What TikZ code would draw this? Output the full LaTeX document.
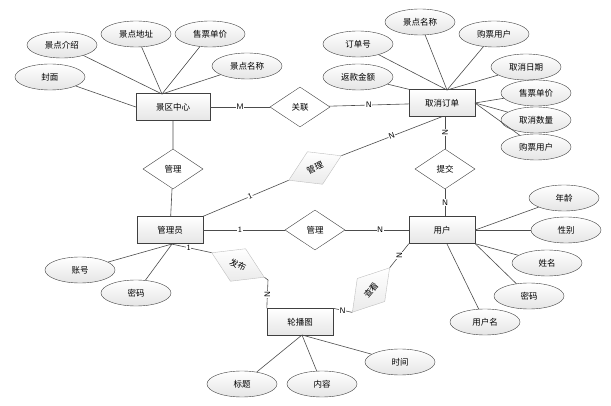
\documentclass[tikz,border=0pt]{standalone}
\usepackage{fontspec}
\setmainfont{Noto Sans CJK SC}
\usetikzlibrary{shapes.geometric}
\begin{document}
\begin{tikzpicture}[x=1pt,y=-1pt,font=\fontsize{8.5}{9}\selectfont,
 ent/.style={draw=black!75,rectangle,minimum width=66pt,minimum height=27pt,top color=white,bottom color=black!10,inner sep=1pt},
 att/.style={draw=black!75,ellipse,minimum width=70pt,minimum height=26pt,top color=white,bottom color=black!10,inner sep=0pt},
 rel/.style={draw=black!75,diamond,aspect=1.5,minimum width=60pt,minimum height=40pt,inner sep=0pt,fill=white},
 grel/.style={draw=black!25,diamond,aspect=1.5,minimum width=58pt,minimum height=36pt,inner sep=0pt,top color=white,bottom color=black!8},
 ln/.style={draw=black!70,line width=0.6pt},
 lab/.style={fill=white,inner sep=0.5pt,font=\sffamily\fontsize{8}{9}\selectfont}]
\useasboundingbox (0,0) rectangle (611,406);
% entities
\node[ent,minimum width=74pt] (jq) at (173,107) {景区中心};
\node[ent] (qx) at (442,103) {取消订单};
\node[ent] (gly) at (170,230) {管理员};
\node[ent] (yh) at (442,230) {用户};
\node[ent] (lbt) at (300,322) {轮播图};
% relations
\node[rel] (gl) at (300,107) {关联};
\node[rel] (gl1) at (173,169) {管理};
\node[rel] (tj) at (445,169) {提交};
\node[rel] (gl2) at (315,230) {管理};
\node[grel,rotate=25] (gl3) at (315,168) {管理};
\node[grel,rotate=-25] (fb) at (238,265) {发布};
\node[grel,rotate=50] (ck) at (371,290) {查看};
% attributes
\node[att] (a1) at (62,45) {景点介绍};
\node[att] (a2) at (136,34) {景点地址};
\node[att] (a3) at (210,34) {售票单价};
\node[att] (a4) at (247,66) {景点名称};
\node[att] (a5) at (50,77) {封面};
\node[att] (b1) at (358,44) {订单号};
\node[att] (b2) at (420,22) {景点名称};
\node[att] (b3) at (494,34) {购票用户};
\node[att] (b4) at (526,67) {取消日期};
\node[att] (b5) at (358,77) {返款金额};
\node[att] (b6) at (536,93) {售票单价};
\node[att] (b7) at (536,120) {取消数量};
\node[att] (b8) at (536,147) {购票用户};
\node[att] (c1) at (564,198) {年龄};
\node[att] (c2) at (566,230) {性别};
\node[att] (c3) at (547,263) {姓名};
\node[att] (c4) at (529,296) {密码};
\node[att] (c5) at (485,322) {用户名};
\node[att] (d1) at (80,270) {账号};
\node[att] (d2) at (136,293) {密码};
\node[att] (e1) at (242,384) {标题};
\node[att] (e2) at (322,384) {内容};
\node[att] (e3) at (400,362) {时间};
% attribute lines
\coordinate (jqt) at (162,94);
\foreach \a in {a1,a2,a3,a4} \draw[ln] (\a) -- (jqt);
\draw[ln] (a5) -- (jq.west);
\coordinate (qxt) at (447,90);
\coordinate (qxr) at (475,103);
\foreach \a in {b1,b2,b3,b4} \draw[ln] (\a) -- (qxt);
\draw[ln] (b5) -- (qx.north west);
\foreach \a in {b6,b7,b8} \draw[ln] (\a) -- (qxr);
\coordinate (yhb) at (447,244);
\foreach \a in {c1,c2} \draw[ln] (\a) -- (yh.east);
\foreach \a in {c3,c4} \draw[ln] (\a) -- (yh.south east);
\draw[ln] (c5) -- (yhb);
\coordinate (glyb) at (172,244);
\foreach \a in {d1,d2} \draw[ln] (\a) -- (glyb);
\coordinate (lbtb) at (302,335);
\foreach \a in {e1,e2,e3} \draw[ln] (\a) -- (lbtb);
% relation lines
\draw[ln] (jq) -- node[lab]{M} (gl);
\draw[ln] (gl) -- node[lab,pos=0.5]{N} (qx);
\draw[ln] (jq) -- (gl1) -- (gly);
\draw[ln] (gly.north east) -- node[lab,pos=0.55,sloped]{1} (gl3.west);
\draw[ln] (gl3.east) -- node[lab,pos=0.5,sloped]{N} (qx.south);
\draw[ln] (qx.south -| tj.north) -- node[lab,rotate=90]{N} (tj);
\draw[ln] (tj) -- node[lab]{N} (yh.north -| tj.south);
\draw[ln] (gly) -- node[lab,pos=0.45]{1} (gl2);
\draw[ln] (gl2) -- node[lab,pos=0.55]{N} (yh);
\draw[ln] (gly.south) -- node[lab,pos=0.45]{1} (fb.west);
\draw[ln] (fb.east) -- (268,280) -- node[lab,rotate=90]{N} (lbt.north west);
\draw[ln] (lbt.north east) -- node[lab]{N} (ck.west);
\draw[ln] (ck.east) -- node[lab,rotate=90]{N} (yh.south west);
\end{tikzpicture}
\end{document}
